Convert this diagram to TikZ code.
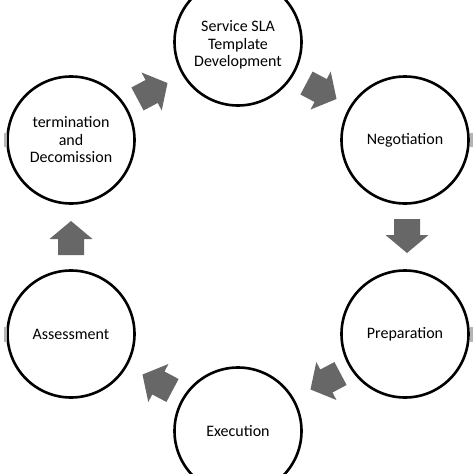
\documentclass[tikz,border=0pt]{standalone}
\usepackage{fontspec}
\setmainfont{Carlito}
\usetikzlibrary{calc}
\definecolor{arrowgray}{HTML}{676767}
\definecolor{markgray}{HTML}{B4B4B4}
\tikzset{
  stage/.style={circle, draw=black, line width=2.6pt, minimum size=127pt, inner sep=0pt,
    align=center, font=\fontsize{16}{17.5}\selectfont},
  blockarrow/.pic={\fill[arrowgray] (-17,-13) -- (-1,-13) -- (-1,-21.5) -- (17,0) -- (-1,21.5) -- (-1,13) -- (-17,13) -- cycle;},
  edgemark/.style={fill=markgray}
}
\begin{document}
\begin{tikzpicture}[x=1pt,y=-1pt]
\useasboundingbox (0,0) rectangle (474,474);
\clip (0,0) rectangle (474,474);
\node[stage] (sla) at (238,42) {\raisebox{-3.5pt}[\height][\depth]{\begin{tabular}{@{}c@{}}Service SLA\\Template\\Development\end{tabular}}};
\node[stage] (neg) at (405,140) {Negotiation};
\node[stage] (prep) at (405,334) {Preparation};
\node[stage] (exec) at (238,431) {Execution};
\node[stage] (assess) at (71,334) {Assessment};
\node[stage] (term) at (71,140) {termination\\and\\Decomission};
\pic[rotate=28] at ($(term)!0.5!(sla)+(-2,0)$) {blockarrow};
\pic[rotate=-28] at ($(sla)!0.5!(neg)$) {blockarrow};
\pic[rotate=-90] at ($(neg)!0.5!(prep)+(2,-1)$) {blockarrow};
\pic[rotate=208] at ($(prep)!0.5!(exec)+(4,-1)$) {blockarrow};
\pic[rotate=152] at ($(exec)!0.5!(assess)+(3,0)$) {blockarrow};
\pic[rotate=90] at ($(assess)!0.5!(term)+(0,1)$) {blockarrow};
\fill[edgemark] (4,133) rectangle (7,147);
\fill[edgemark] (4,327) rectangle (7,342);
\fill[edgemark] (470,133) rectangle (473,147);
\fill[edgemark] (470,327) rectangle (473,342);
\end{tikzpicture}
\end{document}
